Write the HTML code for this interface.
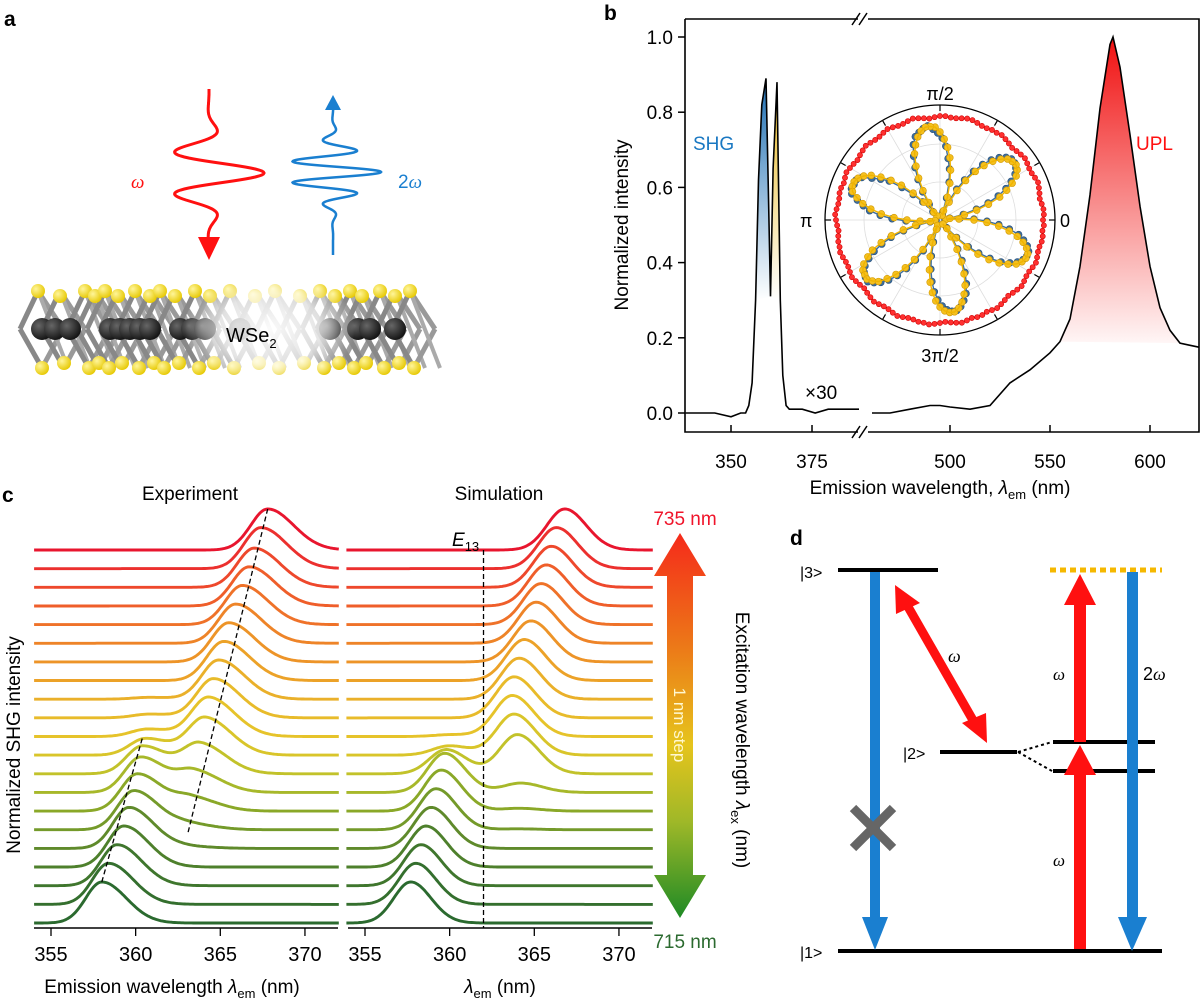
<!DOCTYPE html>
<html><head><meta charset="utf-8">
<style>
body{margin:0;background:#fff;}
svg{display:block;font-family:"Liberation Sans",sans-serif;}
</style></head>
<body>
<svg id="fig" width="1200" height="1000" viewBox="0 0 1200 1000">
<defs>
<linearGradient id="gBlue" x1="0" y1="0" x2="0" y2="1"><stop offset="0" stop-color="#1e6fb3"/><stop offset="1" stop-color="#ffffff"/></linearGradient>
<linearGradient id="gYel" x1="0" y1="0" x2="0" y2="1"><stop offset="0" stop-color="#e8b820"/><stop offset="1" stop-color="#ffffff"/></linearGradient>
<linearGradient id="gRed" x1="0" y1="0" x2="0" y2="1"><stop offset="0" stop-color="#f01010"/><stop offset="1" stop-color="#fff6f6"/></linearGradient>
<linearGradient id="gArrow" x1="0" y1="0" x2="0" y2="1">
<stop offset="0" stop-color="#f52a1a"/><stop offset="0.3" stop-color="#ec7a18"/><stop offset="0.55" stop-color="#e6c41c"/><stop offset="0.75" stop-color="#9fb828"/><stop offset="1" stop-color="#1e8a25"/></linearGradient>
<radialGradient id="gFade" cx="0.5" cy="0.5" r="0.5"><stop offset="0" stop-color="#fff" stop-opacity="0.95"/><stop offset="0.6" stop-color="#fff" stop-opacity="0.7"/><stop offset="1" stop-color="#fff" stop-opacity="0"/></radialGradient>
<radialGradient id="gBall" cx="0.35" cy="0.35" r="0.7"><stop offset="0" stop-color="#666"/><stop offset="1" stop-color="#111"/></radialGradient>
<radialGradient id="gYball" cx="0.35" cy="0.35" r="0.7"><stop offset="0" stop-color="#fff59a"/><stop offset="1" stop-color="#e6c800"/></radialGradient>
</defs>

<text x="4" y="26" font-size="21" font-weight="bold">a</text>
<text x="604" y="20" font-size="21" font-weight="bold">b</text>
<text x="2" y="502" font-size="21" font-weight="bold">c</text>
<text x="790" y="545" font-size="21" font-weight="bold">d</text>

<!-- panel a -->
<g id="panelA">
<g id="lattice"></g>
<text x="226" y="342" font-size="20">WSe<tspan font-size="13" dy="6">2</tspan></text>
<path id="redWave" fill="none" stroke="#ff1010" stroke-width="3"/>
<polygon points="198,237 220,237 209,260" fill="#ff1010"/>
<path id="blueWave" fill="none" stroke="#1a7fd0" stroke-width="2.5"/>
<polygon points="325,110 341,110 333,95" fill="#1a7fd0"/>
<text x="131" y="188" font-size="19" font-style="italic" fill="#ff1010" font-family="Liberation Serif,serif">ω</text>
<text x="398" y="188" font-size="19" fill="#1a7fd0">2<tspan font-style="italic" font-family="Liberation Serif,serif">ω</tspan></text>
</g>

<!-- panel b -->
<g id="panelB">
<g id="bFills"></g>
<path id="bCurveL" fill="none" stroke="#000" stroke-width="1.6"/>
<path id="bCurveR" fill="none" stroke="#000" stroke-width="1.6"/>
<path d="M685,19 V432 H858 M868,432 H1199 V19 H868 M858,19 H685" fill="none" stroke="#000" stroke-width="1.6"/>
<path d="M852,438 L860,426 M859,438 L867,426 M852,25 L860,13 M859,25 L867,13" stroke="#000" stroke-width="1.5"/>
<g id="bTicks"></g>
<text transform="translate(628,225) rotate(-90)" text-anchor="middle" font-size="19">Normalized intensity</text>
<text x="940" y="494" text-anchor="middle" font-size="19">Emission wavelength, <tspan font-style="italic">λ</tspan><tspan font-size="13" dy="5">em</tspan><tspan dy="-5"> (nm)</tspan></text>
<text x="693" y="150" font-size="19" fill="#1a78c2">SHG</text>
<text x="1136" y="150" font-size="19" fill="#ff1010">UPL</text>
<text x="805" y="399" font-size="19">×30</text>
<g id="polar"></g>
<text x="940" y="100" text-anchor="middle" font-size="18">π/2</text>
<text x="1060" y="227" font-size="18">0</text>
<text x="800" y="227" font-size="18">π</text>
<text x="940" y="362" text-anchor="middle" font-size="18">3π/2</text>
</g>

<!-- panel c -->
<g id="panelC">
<text x="190" y="500" text-anchor="middle" font-size="19">Experiment</text>
<text x="499" y="500" text-anchor="middle" font-size="19">Simulation</text>
<g id="cExp"></g>
<g id="cSim"></g>
<g id="cAxes"></g>
<text x="452" y="546" font-size="19" font-style="italic">E<tspan font-style="normal" font-size="13" dy="5">13</tspan></text>
<text transform="translate(20,745) rotate(-90)" text-anchor="middle" font-size="19">Normalized SHG intensity</text>
<text x="172" y="993" text-anchor="middle" font-size="19">Emission wavelength <tspan font-style="italic">λ</tspan><tspan font-size="13" dy="5">em</tspan><tspan dy="-5"> (nm)</tspan></text>
<text x="500" y="993" text-anchor="middle" font-size="19"><tspan font-style="italic">λ</tspan><tspan font-size="13" dy="5">em</tspan><tspan dy="-5"> (nm)</tspan></text>
<path d="M680,533 L706,576 L693,576 L693,875 L706,875 L680,918 L654,875 L667,875 L667,576 L654,576 Z" fill="url(#gArrow)"/>
<text transform="translate(674,725) rotate(90)" text-anchor="middle" font-size="17" fill="#fff8d0">1 nm step</text>
<text x="685" y="525" text-anchor="middle" font-size="19" fill="#f0142a">735 nm</text>
<text x="685" y="948" text-anchor="middle" font-size="19" fill="#2b6a2f">715 nm</text>
<text transform="translate(736,740) rotate(90)" text-anchor="middle" font-size="19">Excitation wavelength <tspan font-style="italic">λ</tspan><tspan font-size="13" dy="5">ex</tspan><tspan dy="-5"> (nm)</tspan></text>
</g>

<!-- panel d -->
<g id="panelD">
<line x1="838" y1="570" x2="938" y2="570" stroke="#000" stroke-width="4"/>
<line x1="838" y1="951" x2="1162" y2="951" stroke="#000" stroke-width="4"/>
<line x1="940" y1="752" x2="1017" y2="752" stroke="#000" stroke-width="4"/>
<line x1="1053" y1="742" x2="1155" y2="742" stroke="#000" stroke-width="4"/>
<line x1="1053" y1="771" x2="1155" y2="771" stroke="#000" stroke-width="4"/>
<path d="M1018,752 L1052,742 M1018,752 L1052,771" stroke="#000" stroke-width="2" stroke-dasharray="3,3"/>
<line x1="1050" y1="570" x2="1162" y2="570" stroke="#f5b800" stroke-width="5" stroke-dasharray="6,4"/>
<text x="800" y="578" font-size="16">|3&gt;</text>
<text x="903" y="759" font-size="16">|2&gt;</text>
<text x="800" y="958" font-size="16">|1&gt;</text>
<rect x="870" y="572" width="10" height="345" fill="#1a7fd0"/>
<polygon points="862,917 888,917 875,950" fill="#1a7fd0"/>
<path d="M853,808 L893,848 M893,808 L853,848" stroke="#666" stroke-width="9"/>
<g>
<line x1="907" y1="605" x2="974" y2="722" stroke="#ff1010" stroke-width="9"/>
<polygon points="895,585 920,603 896,614" fill="#ff1010"/>
<polygon points="987,743 962,723 986,713" fill="#ff1010"/>
</g>
<text x="948" y="662" font-size="18" font-style="italic" font-family="Liberation Serif,serif">ω</text>
<rect x="1074" y="772" width="12" height="177" fill="#ff1010"/>
<polygon points="1064,775 1096,775 1080,745" fill="#ff1010"/>
<rect x="1074" y="603" width="12" height="139" fill="#ff1010"/>
<polygon points="1064,605 1096,605 1080,574" fill="#ff1010"/>
<rect x="1127" y="572" width="11" height="345" fill="#1a7fd0"/>
<polygon points="1118,917 1147,917 1132,951" fill="#1a7fd0"/>
<text x="1053" y="680" font-size="17" font-style="italic" font-family="Liberation Serif,serif">ω</text>
<text x="1053" y="866" font-size="17" font-style="italic" font-family="Liberation Serif,serif">ω</text>
<text x="1143" y="680" font-size="18">2<tspan font-style="italic" font-family="Liberation Serif,serif">ω</tspan></text>
</g>
</svg>

<script>
// ===== Panel b data =====
const shgWl = [336,345,350,353,354.5,355.5,356.5,357.6,358.5,359.5,360.8,361.5,362.2,363,364.2,365.2,366,367,368,372,376,380,385,389.5];
const shgI  = [0.0,0.0,-0.01,0.0,0.0,0.02,0.08,0.3,0.62,0.82,0.89,0.6,0.31,0.65,0.88,0.3,0.1,0.02,0.01,0.01,0.0,0.01,0.01,0.01];
const uplWl = [461,470,480,490,495,500,510,520,530,540,550,555,560,565,570,575,580,581.5,585,590,595,600,605,610,615,620,624.5];
const uplI  = [0.0,0.0,0.01,0.02,0.02,0.016,0.01,0.02,0.08,0.115,0.16,0.19,0.25,0.39,0.58,0.81,0.98,1.0,0.92,0.74,0.55,0.39,0.28,0.22,0.186,0.18,0.175];
const bYTicks = [0.0,0.2,0.4,0.6,0.8,1.0];
const bXTicksL = [350,375];
const bXTicksR = [500,550,600];
// polar: angles every 3 degrees (0..357)
const polarBlue = [34,20,5,10,24,38,51,63,73,81,88,92,94,94,91,86,79,70,59,47,
                   35,21,6,9,23,39,52,62,74,82,87,91,95,93,90,87,80,69,58,46,
                   33,19,5,11,25,37,50,64,72,80,89,93,93,94,92,85,78,71,60,48,
                   34,20,4,10,24,38,52,63,73,81,88,92,94,95,91,86,79,70,59,47,
                   35,21,6,9,23,37,50,62,72,80,86,90,92,92,89,84,78,69,58,46,
                   34,20,5,10,24,39,51,63,74,82,88,92,94,94,91,86,80,70,59,47];
const polarYellow=[34,19,6,10,25,38,51,64,73,81,88,92,94,93,91,86,79,70,60,47,
                   34,20,5,10,24,38,51,63,73,81,88,93,94,94,91,86,79,71,59,47,
                   34,21,5,10,24,38,52,63,73,82,88,92,94,94,92,86,79,70,59,46,
                   33,20,5,10,25,38,51,63,74,81,88,92,93,94,91,87,79,70,59,47,
                   34,20,6,10,24,38,51,63,73,81,87,91,93,93,90,85,78,70,59,47,
                   34,20,5,11,24,38,51,63,73,81,88,92,94,94,91,86,79,70,59,47];
const polarRed = [103,104,104,103,102,103,104,105,104,103,103,104,105,104,103,102,103,104,105,104,
                  104,103,103,104,105,105,104,103,103,104,104,103,102,103,104,105,104,103,103,104,
                  105,104,103,103,104,105,104,103,102,103,104,105,104,103,104,104,103,103,104,105,
                  104,103,102,103,104,104,105,104,103,103,104,105,104,103,102,103,104,105,104,103,
                  103,104,105,104,103,103,104,104,105,104,103,102,103,104,105,104,103,104,104,103,
                  104,105,104,103,102,103,104,105,104,103,103,104,105,104,103,103,104,104,103,104];

// ===== Panel c data (row 0 = 715 nm, row 20 = 735 nm) =====
const expPosA = [358.0,358.4,358.9,359.3,359.6,359.9,360.1,360.3,360.4,360.6,360.7,360.8,360.8,361,361,361,361,361,361,361,361];
const expAmpA = [2.2,2.2,2.2,2.2,2.2,2.1,2.0,1.9,1.5,0.9,0.4,0.2,0.1,0,0,0,0,0,0,0,0];
const expPosB = [363,363,363,363,363.0,363.1,363.3,363.5,363.8,364.1,364.3,364.6,364.9,365.2,365.5,365.9,366.3,366.7,367.0,367.4,367.8];
const expAmpB = [0,0,0,0,0.1,0.3,0.7,1.1,1.6,2.0,2.1,2.1,2.1,2.1,2.1,2.1,2.1,2.1,2.1,2.2,2.2];
const simPosA = [357.7,358.0,358.3,358.6,358.9,359.2,359.5,359.7,359.8,360.0,360.1,360,360,360,360,360,360,360,360,360,360];
const simAmpA = [2.2,2.2,2.2,2.2,2.2,2.2,2.2,2.1,1.3,0.5,0.1,0,0,0,0,0,0,0,0,0,0];
const simPosB = [364,364,364,364,364,364.0,364.1,364.2,364.0,363.8,363.7,363.8,364.1,364.4,364.8,365.1,365.4,365.7,366.0,366.3,366.8];
const simAmpB = [0,0,0,0,0,0.05,0.15,0.5,2.1,2.2,2.2,2.2,2.2,2.2,2.2,2.2,2.2,2.2,2.2,2.2,2.2];
const cTicks = [355,360,365,370];
const e13Wl = 362;

const NS = "http://www.w3.org/2000/svg";
function mk(tag, attrs, parent){const e=document.createElementNS(NS,tag);for(const k in attrs)e.setAttribute(k,attrs[k]);parent.appendChild(e);return e;}

const bxL = nm => 685 + (nm-335.8)*3.24;
const bxR = nm => 950 + (nm-500)*2.0;
const by = v => 413 - v*376;
function pathFrom(xs, ys, fx){return xs.map((w,i)=>(i?'L':'M')+fx(w).toFixed(1)+','+by(ys[i]).toFixed(1)).join(' ');}
document.getElementById('bCurveL').setAttribute('d', pathFrom(shgWl, shgI, bxL));
document.getElementById('bCurveR').setAttribute('d', pathFrom(uplWl, uplI, bxR));
const bFills = document.getElementById('bFills');
function fillPoly(xs, ys, fx, lo, hi, grad, name){
  const pts=[];xs.forEach((w,i)=>{if(w>=lo&&w<=hi)pts.push(fx(w).toFixed(1)+','+by(ys[i]).toFixed(1));});
  const p = mk('polygon',{points:pts.join(' '),fill:grad},bFills);
  
  
}
fillPoly(shgWl, shgI, bxL, 357.6, 362.2, 'url(#gBlue)', 'shg-blue-fill');
fillPoly(shgWl, shgI, bxL, 362.2, 365.2, 'url(#gYel)', 'shg-yellow-fill');
fillPoly(uplWl, uplI, bxR, 555, 615, 'url(#gRed)', 'upl-red-fill');
const bTicks = document.getElementById('bTicks');
bYTicks.forEach(v=>{
  const l=mk('line',{x1:678,x2:685,y1:by(v),y2:by(v),stroke:'#000','stroke-width':1.5},bTicks);
  
  
  const t=mk('text',{x:673,y:by(v)+7,'text-anchor':'end','font-size':19},bTicks);
  t.textContent=v.toFixed(1);
  
  
});
function xTick(x,label){
  const l=mk('line',{x1:x,x2:x,y1:425,y2:432,stroke:'#000','stroke-width':1.5},bTicks);
  
  
  const t=mk('text',{x:x,y:468,'text-anchor':'middle','font-size':19},bTicks);
  t.textContent=label;
  
  
}
bXTicksL.forEach(v=>xTick(bxL(v),v));
bXTicksR.forEach(v=>xTick(bxR(v),v));

// ---- polar inset
const polar = document.getElementById('polar');
const pcx=940, pcy=220, pR=115;
mk('circle',{cx:pcx,cy:pcy,r:pR,fill:'#fff',stroke:'#000','stroke-width':1.3},polar);
[38,76].forEach(r=>mk('circle',{cx:pcx,cy:pcy,r:r,fill:'none',stroke:'#ddd','stroke-width':0.8},polar));
for(let a=0;a<360;a+=30){const rad=a*Math.PI/180;
  mk('line',{x1:pcx,y1:pcy,x2:pcx+pR*Math.cos(rad),y2:pcy-pR*Math.sin(rad),stroke:'#ddd','stroke-width':0.8},polar);
  mk('line',{x1:pcx+(pR-6)*Math.cos(rad),y1:pcy-(pR-6)*Math.sin(rad),x2:pcx+pR*Math.cos(rad),y2:pcy-pR*Math.sin(rad),stroke:'#000','stroke-width':1.2},polar);}
function polarDots(vals, stepDeg, offDeg, color, edge, rDot, name){
  const g=mk('g',{},polar);
  
  
  const pts=[];
  vals.forEach((r,i)=>{const rad=(i*stepDeg+offDeg)*Math.PI/180;const x=pcx+r*Math.cos(rad),y=pcy-r*Math.sin(rad);pts.push(x.toFixed(1)+','+y.toFixed(1));
    mk('circle',{cx:x,cy:y,r:rDot,fill:color,stroke:edge,'stroke-width':0.6},g);});
  return pts;
}
const redPts = polarDots(polarRed, 3, 0, '#ff3030', '#d00000', 2.6, 'polar-upl-dots');
const bPts = polarDots(polarBlue, 3, 1.5, '#3d6e9e', '#274f78', 3.4, 'polar-shg-blue-dots');
mk('polygon',{points:bPts.join(' '),fill:'none',stroke:'#3d6e9e','stroke-width':1.4},polar);
const yPts = polarDots(polarYellow, 3, 0, '#f4c020', '#d49a00', 3.4, 'polar-shg-yellow-dots');
mk('polygon',{points:yPts.join(' '),fill:'none',stroke:'#f0b400','stroke-width':1.4},polar);

// ---- panel c
const rowColors = ['#2b6a2f','#346f2e','#3f762d','#4e802c','#5f8a2b','#749a2a','#8aa828','#a7b82a','#c2c22a','#d9c52a','#e6c32a','#e8bb2a','#eab02a','#eca228','#ed9428','#ee8428','#ef7229','#ef5e2a','#ee482c','#ec302e','#e8152e'];
const cBase0 = 923, cSpacing = 18.65;
const cxE = nm => 51 + (nm-355)*16.93;
const cxS = nm => 365 + (nm-355)*16.93;
function gAsym(d, sl, sr){const s=d<0?sl:sr;return Math.exp(-d*d/(2*s*s));}
function drawTraces(gid, pA, aA, pB, aB, fx, x0, x1, sl, sr, name){
  const g=document.getElementById(gid);
  for(let i=0;i<pA.length;i++){
    const base=cBase0 - i*cSpacing;
    let d='';
    for(let nm=x0;nm<=x1+0.001;nm+=0.1){
      const v=aA[i]*gAsym(nm-pA[i],sl,sr)+aB[i]*gAsym(nm-pB[i],sl*1.05,sr*1.05);
      d+=(d?'L':'M')+fx(nm).toFixed(1)+','+(base - v*cSpacing).toFixed(1);
    }
    const p=mk('path',{d:d,fill:'none',stroke:rowColors[i],'stroke-width':2.9,'stroke-linejoin':'round'},g);
    
    
  }
}
drawTraces('cExp', expPosA, expAmpA, expPosB, expAmpB, cxE, 354.0, 372.0, 0.95, 1.45, 'experiment-trace');
drawTraces('cSim', simPosA, simAmpA, simPosB, simAmpB, cxS, 353.9, 372.0, 1.0, 1.2, 'simulation-trace');
const cAx=document.getElementById('cAxes');
[[34,338,cxE,'experiment'],[348,652,cxS,'simulation']].forEach(([a,b,fx,nm])=>{
  const l=mk('line',{x1:a,x2:b,y1:928,y2:928,stroke:'#000','stroke-width':1.5},cAx);
  
  
  cTicks.forEach(v=>{
    const t=mk('line',{x1:fx(v),x2:fx(v),y1:928,y2:936,stroke:'#000','stroke-width':1.3},cAx);
    
    
    const tx=mk('text',{x:fx(v),y:961,'text-anchor':'middle','font-size':20},cAx);
    tx.textContent=v;
    
    
  });
});
const rowY = (i,a)=>cBase0 - i*cSpacing - a*cSpacing;
function dash(x1,y1,x2,y2,name){const l=mk('line',{x1:x1,y1:y1,x2:x2,y2:y2,stroke:'#000','stroke-width':1.3,'stroke-dasharray':'5,3'},cAx);
  
  }
dash(cxE(expPosA[0]), rowY(0,expAmpA[0]), cxE(expPosA[8]), rowY(8,expAmpA[8])-8, 'exciton-peak-guide');
dash(cxE(expPosB[5]), rowY(5,expAmpB[5])+8, cxE(expPosB[20]), rowY(20,expAmpB[20]), 'shg-peak-guide');
dash(cxS(e13Wl), 550, cxS(e13Wl), 928, 'e13-guide');

// ---- panel a
(function(){
  let d='';
  for(let y=89;y<=238;y+=1){const env=Math.exp(-Math.pow((y-173)/32,2));const x=209+55*env*Math.sin(2*Math.PI*(y-173)/46+Math.PI/2);d+=(d?'L':'M')+x.toFixed(1)+','+y;}
  document.getElementById('redWave').setAttribute('d',d);
  d='';
  for(let y=255;y>=110;y-=0.5){const env=Math.exp(-Math.pow((y-172)/26,2));const x=333+48*env*Math.sin(2*Math.PI*(y-172)/22+Math.PI/2);d+=(d?'L':'M')+x.toFixed(1)+','+y;}
  document.getElementById('blueWave').setAttribute('d',d);
  const lat=document.getElementById('lattice');
  const blackX=[42,55,70,110,120,130,140,150,180,192,205,240,330,358,370,395];
  const topX=[38,60,85,95,105,118,135,150,160,175,195,210,230,255,275,300,320,335,350,362,380,395,410];
  for(let k=0;k<topX.length;k++){const x=topX[k];
    mk('line',{x1:x,y1:291,x2:x+25,y2:329,stroke:'#999','stroke-width':5},lat);
    mk('line',{x1:x,y1:291,x2:x-18,y2:329,stroke:'#888','stroke-width':5},lat);
    mk('line',{x1:x+4,y1:368,x2:x+25,y2:329,stroke:'#999','stroke-width':5},lat);
    mk('line',{x1:x+4,y1:368,x2:x-18,y2:329,stroke:'#888','stroke-width':5},lat);
    mk('line',{x1:x,y1:291,x2:x+30,y2:368,stroke:'#aaa','stroke-width':4},lat);}
  blackX.forEach(x=>mk('circle',{cx:x,cy:329,r:11,fill:'url(#gBall)'},lat));
  topX.forEach((x,k)=>{mk('circle',{cx:x,cy:291+(k%2)*5,r:7,fill:'url(#gYball)'},lat);mk('circle',{cx:x+4,cy:368-(k%2)*5,r:7,fill:'url(#gYball)'},lat);});
  mk('ellipse',{cx:270,cy:329,rx:85,ry:60,fill:'url(#gFade)'},lat);
})();
</script>
</body></html>
